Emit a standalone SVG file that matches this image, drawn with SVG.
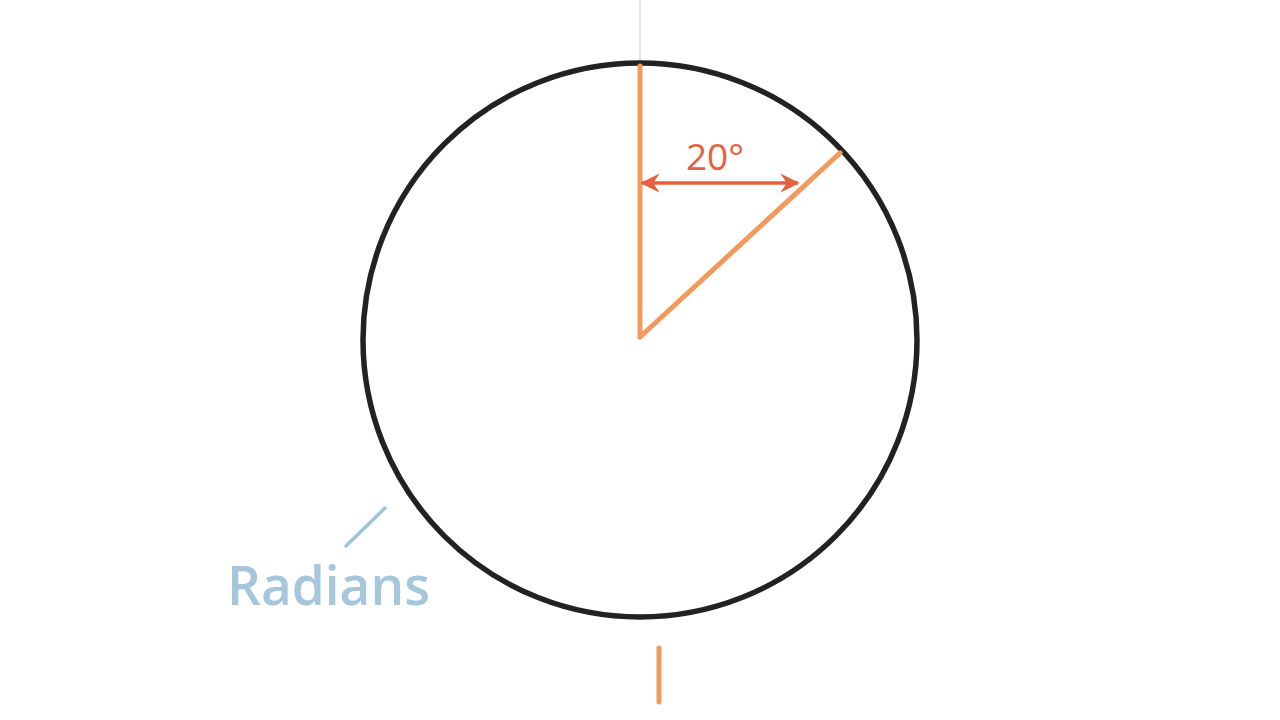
<svg xmlns="http://www.w3.org/2000/svg" width="1280" height="720" viewBox="0 0 1280 720">
<defs>
<style>
.ray{stroke:#f29a5e;stroke-width:5;stroke-linecap:round;fill:none}
.lbl{font-family:"Open Sans","Noto Sans",sans-serif}
</style>
<marker id="ah" viewBox="0 0 12 12" refX="11" refY="6" markerWidth="5.5" markerHeight="5.5" orient="auto-start-reverse" markerUnits="strokeWidth">
<path d="M0,0 L12,6 L0,12 L4,6 Z" fill="#e4603e"/>
</marker>
</defs>
<rect width="1280" height="720" fill="#ffffff"/>
<g id="guide"><line x1="640" y1="0" x2="640" y2="62" stroke="#dddddd" stroke-width="1.5"/></g>
<g id="circle"><circle cx="640" cy="340" r="277" fill="none" stroke="#222222" stroke-width="5.5"/></g>
<g id="connectors">
<line class="ray" x1="640" y1="66" x2="640" y2="337"/>
<line class="ray" x1="640" y1="337" x2="840" y2="153"/>
<line x1="642" y1="183" x2="798" y2="183" stroke="#e4603e" stroke-width="3.5" marker-start="url(#ah)" marker-end="url(#ah)"/>
<line x1="346" y1="546" x2="385" y2="508" stroke="#9fc4d8" stroke-width="3.5" stroke-linecap="round"/>
<line class="ray" x1="659" y1="648" x2="659" y2="702"/>
</g>
<g id="angle-label"><text class="lbl" x="715" y="170" font-size="37" fill="#e4603e" text-anchor="middle">20°</text></g>
<g id="radians-label"><text class="lbl" x="227" y="605" font-size="55" font-weight="600" fill="#a6c6db" textLength="203" lengthAdjust="spacingAndGlyphs">Radians</text></g>
</svg>
